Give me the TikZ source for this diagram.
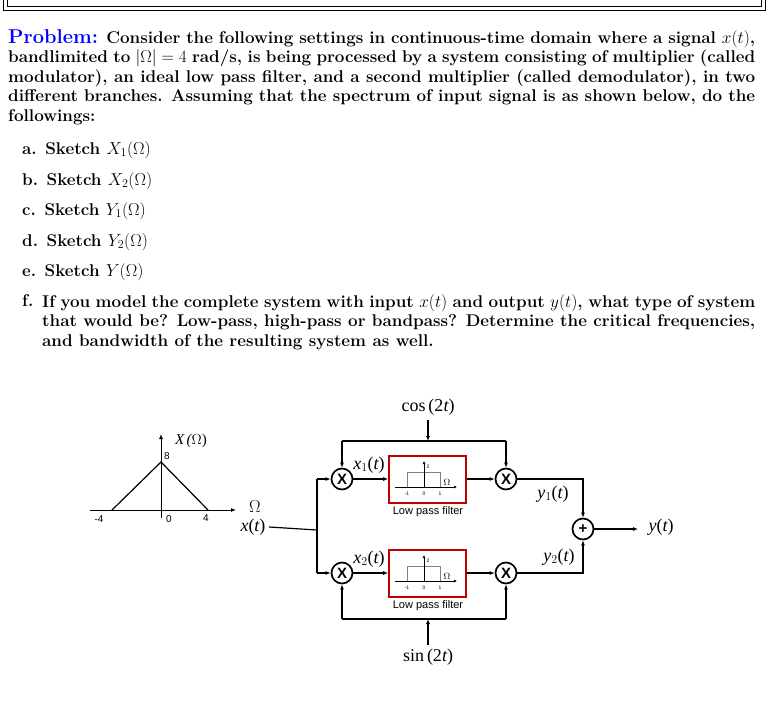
\documentclass[tikz,border=0pt]{standalone}
\usepackage{fontspec}
\newfontfamily\tms{Liberation Serif}
\newfontfamily\ars{Liberation Sans}
\usetikzlibrary{arrows.meta}
\begin{document}
\begin{tikzpicture}[x=1pt,y=-1pt,
  wire/.style={line width=1.2pt},
  arr/.style={wire,-{Latex[length=5pt,width=4pt]}},
  mult/.style={circle,draw,line width=1.7pt,minimum size=21pt,inner sep=0pt,font=\ars\bfseries\fontsize{15}{15}\selectfont},
  lpf/.style={draw=red!75!black,line width=1.6pt},
  lab/.style={font=\tms\fontsize{18}{18}\selectfont},
  sml/.style={font=\ars\fontsize{10}{10}\selectfont},
  txt/.style={anchor=north west,inner sep=0pt,font=\bfseries\fontsize{17}{19.5}\selectfont}]
\useasboundingbox (0,0) rectangle (768,707);
% top frame
\draw[line width=0.6pt] (3,-5) -- (3,10) -- (765,10) -- (765,-5);
\draw[line width=0.6pt] (7,-5) -- (7,6) -- (761,6) -- (761,-5);
% text
\node[txt,text width=747pt,align=justify] (p) at (8,29) {{\mdseries\color{blue}\fontsize{20}{19.5}\selectfont\textbf{Problem:}} Consider the following settings in continuous-time domain where a signal $x(t)$,\linebreak bandlimited to $|\Omega|=4$ rad/s, is being processed by a system consisting of multiplier (called\linebreak modulator), an ideal low pass filter, and a second multiplier (called demodulator), in two\linebreak different branches. Assuming that the spectrum of input signal is as shown below, do the\linebreak followings:};
\node[txt] (a) at (22,141) {a. Sketch $X_1(\Omega)$};
\node[txt] (b) at (22,172) {b. Sketch $X_2(\Omega)$};
\node[txt] (c) at (22,202) {c. Sketch $Y_1(\Omega)$};
\node[txt] (d) at (22,233) {d. Sketch $Y_2(\Omega)$};
\node[txt] (e) at (22,263) {e. Sketch $Y(\Omega)$};
\node[txt] (f) at (22,294) {f.};
\node[txt,text width=713pt,align=justify] (ft) at (42,294) {If you model the complete system with input $x(t)$ and output $y(t)$, what type of system\linebreak that would be? Low-pass, high-pass or bandpass? Determine the critical frequencies,\linebreak and bandwidth of the resulting system as well.};
% spectrum
\coordinate (ax0) at (90,510); \coordinate (ax1) at (236,510);
\coordinate (ay0) at (161,518); \coordinate (ay1) at (161,434);
\draw[line width=0.9pt,-{Latex[length=5pt,width=4pt]}] (ax0) -- (ax1);
\draw[line width=0.9pt,-{Latex[length=5pt,width=4pt]}] (ay0) -- (ay1);
\coordinate (tl) at (112,510); \coordinate (tp) at (161,462); \coordinate (tr) at (208,510);
\draw[line width=1.2pt] (tl) -- (tp) -- (tr);
\node[sml] (m4) at (99,519) {-4};
\node[sml] (z0) at (169,519) {0};
\node[sml] (p4) at (206,518) {4};
\node[sml] (e8) at (167,456) {8};
\node[font=\tms\itshape\fontsize{15}{15}\selectfont] (XO) at (191,441) {X\,(\upshape$\Omega$)};
\node[font=\tms\fontsize{16}{16}\selectfont] (Om) at (255,507) {$\Omega$};
% block diagram
\node[lab] (xt) at (253,527) {\itshape x\upshape(\itshape t\upshape)};
\coordinate (j) at (317,530);
\coordinate (jt) at (317,479); \coordinate (jb) at (317,573);
\node[mult] (M1) at (342,479) {X};
\node[mult] (M3) at (342,573) {X};
\node[mult] (M2) at (506,479) {X};
\node[mult] (M4) at (506,573) {X};
\node[mult] (S) at (583,529) {+};
\draw[wire] (xt.east) -- (j);
\draw[wire] (jb) -- (jt);
\draw[arr] (jt) -- (M1); \draw[arr] (jb) -- (M3);
\node[lpf,minimum width=77pt,minimum height=47pt] (F1) at (427.5,479.5) {};
\node[lpf,minimum width=77pt,minimum height=47pt] (F2) at (427.5,573.5) {};
\draw[arr] (M1) -- (F1.west |- M1); \draw[arr] (F1.east |- M2) -- (M2);
\draw[arr] (M3) -- (F2.west |- M3); \draw[arr] (F2.east |- M4) -- (M4);
\foreach \F/\dy in {F1/0,F2/94}{
  \draw[line width=0.6pt,-{Latex[length=3pt,width=3pt]}] (395,487+\dy) -- (457,487+\dy);
  \draw[line width=0.5pt,gray] (407,487+\dy) -- (407,472+\dy) -- (440,472+\dy) -- (440,487+\dy);
  \draw[line width=0.7pt,-{Latex[length=3pt,width=3pt]}] (424,488+\dy) -- (424,461+\dy);
  \node[font=\ars\fontsize{5}{5}\selectfont] at (407,494+\dy) {-1};
  \node[font=\ars\fontsize{5}{5}\selectfont] at (424,494+\dy) {0};
  \node[font=\ars\fontsize{5}{5}\selectfont] at (440,494+\dy) {1};
  \node[font=\ars\fontsize{5}{5}\selectfont] at (428,467+\dy) {2};
  \node[font=\tms\fontsize{9}{9}\selectfont] at (447,482+\dy) {$\Omega$};
}
\node[font=\ars\fontsize{11}{11}\selectfont] (L1) at (428,512) {Low pass filter};
\node[font=\ars\fontsize{11}{11}\selectfont] (L2) at (428,606) {Low pass filter};
% carriers
\node[lab] (cos) at (428,407) {cos\,(2\itshape t\upshape)};
\node[lab] (sin) at (428,657) {sin\,(2\itshape t\upshape)};
\coordinate (ct) at (428,441); \coordinate (cl) at (342,441); \coordinate (cr) at (506,441);
\coordinate (st) at (428,619); \coordinate (sl) at (342,619); \coordinate (sr) at (506,619);
\draw[arr] (428,420) -- (ct);
\draw[wire] (cl) -- (cr);
\draw[arr] (cl) -- (M1); \draw[arr] (cr) -- (M2);
\draw[arr] (428,645) -- (st);
\draw[wire] (sl) -- (sr);
\draw[arr] (sl) -- (M3); \draw[arr] (sr) -- (M4);
% outputs
\draw[arr] (M2) -| (S); \draw[arr] (M4) -| (S);
\coordinate (yo) at (638,529);
\draw[arr] (S) -- (yo);
\node[lab] (yt) at (661,527) {\itshape y\upshape(\itshape t\upshape)};
\node[lab] (x1) at (369,465) {\itshape x\upshape$_1$(\itshape t\upshape)};
\node[lab] (x2) at (369,559) {\itshape x\upshape$_2$(\itshape t\upshape)};
\node[lab] (y1) at (553,494) {\itshape y\upshape$_1$(\itshape t\upshape)};
\node[lab] (y2) at (559,557) {\itshape y\upshape$_2$(\itshape t\upshape)};
\end{tikzpicture}
\end{document}
